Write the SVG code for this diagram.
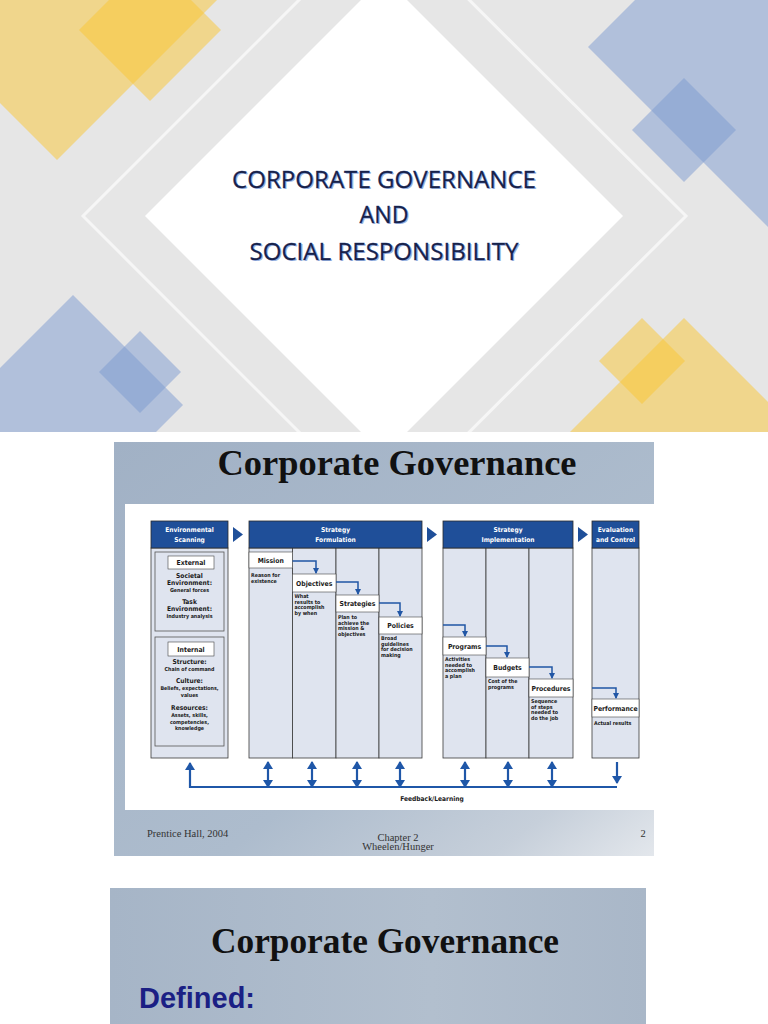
<svg xmlns="http://www.w3.org/2000/svg" width="768" height="1024" viewBox="0 0 768 1024">
<defs>
<clipPath id="topclip"><rect x="0" y="0" width="768" height="432"/></clipPath>
<linearGradient id="s2bg" x1="0" y1="0" x2="1" y2="1">
<stop offset="0" stop-color="#a1b1c5"/>
<stop offset="0.6" stop-color="#adbccd"/>
<stop offset="0.85" stop-color="#c6cfda"/>
<stop offset="1" stop-color="#e3e7ec"/>
</linearGradient>
<linearGradient id="s3bg" x1="0" y1="0" x2="1" y2="0">
<stop offset="0" stop-color="#a6b5c7"/>
<stop offset="0.6" stop-color="#b2bfce"/>
<stop offset="1" stop-color="#a9b7c8"/>
</linearGradient>
<marker id="ah" viewBox="0 0 6 6" refX="5" refY="3" markerWidth="6" markerHeight="6" orient="auto" markerUnits="userSpaceOnUse">
<path d="M0,0 L6,3 L0,6 z" fill="#2156a5"/>
</marker>
<marker id="fb" viewBox="0 0 8 10" refX="7" refY="5" markerWidth="8" markerHeight="10" orient="auto-start-reverse" markerUnits="userSpaceOnUse">
<path d="M0,0 L8,5 L0,10 z" fill="#1f57a8"/>
</marker>
<style>
.yel{fill:#fac632;opacity:0.5}
.blu{fill:#7b9ad0;opacity:0.5}
.ttl{font-family:"Open Sans","Liberation Sans",sans-serif;font-size:24px;text-anchor:middle;fill:#17224a;stroke:#2b4c98;stroke-width:0.3px;paint-order:stroke}
.tsh{font-family:"Open Sans","Liberation Sans",sans-serif;font-size:24px;text-anchor:middle;fill:#7d9bd6;opacity:0.75}
.hdr{fill:#1f4f99;stroke:#2b2b2b;stroke-width:0.8}
.col{fill:#dfe4ef;stroke:#3a3a3a;stroke-width:0.8}
.inb{fill:#dfe4ef;stroke:#555;stroke-width:0.8}
.box{fill:#ffffff;stroke:#444;stroke-width:0.6}
.tri{fill:#1f4f99}
.cf{font-family:"DejaVu Sans Condensed","DejaVu Sans","Liberation Sans",sans-serif;font-stretch:condensed;font-weight:bold}
.ht{font-size:6.6px;fill:#ffffff;text-anchor:middle}
.bl{font-size:6.8px;fill:#1a1a1a;text-anchor:middle}
.sm{font-size:5.3px;fill:#1a1a1a}
.smc{font-size:5.3px;fill:#1a1a1a;text-anchor:middle}
.md{font-size:6.6px;fill:#1a1a1a;text-anchor:middle}
.arr{fill:none;stroke:#2156a5;stroke-width:1.5}
.fbl{fill:none;stroke:#1f57a8;stroke-width:2.2}
.ser{font-family:"Liberation Serif","Times New Roman",serif}
</style>
</defs>

<g id="title-slide">
<rect x="0" y="0" width="768" height="432" fill="#e6e6e6"/>
<g clip-path="url(#topclip)">
<polygon points="384,-85 686,216 384,517 83,216" fill="none" stroke="#f6f6f6" stroke-width="3"/>
<polygon points="384,-23 623,216 384,455 145,216" fill="#ffffff"/>
<polygon class="yel" points="57,-160 217,0 57,160 -103,0"/>
<polygon class="yel" points="150,-41 221,30 150,101 79,30"/>
<polygon class="blu" points="588,47 788,-153 988,47 788,247"/>
<polygon class="blu" points="684,78 736,130 684,182 632,130"/>
<polygon class="blu" points="73,295 183,405 73,515 -37,405"/>
<polygon class="blu" points="140,331 181,372 140,413 99,372"/>
<polygon class="yel" points="684,318 804,438 684,558 564,438"/>
<polygon class="yel" points="642,318 685,361 642,404 599,361"/>
</g>
<text class="tsh" x="385.3" y="189.3" textLength="304" lengthAdjust="spacingAndGlyphs">CORPORATE GOVERNANCE</text>
<text class="ttl" x="384" y="188" textLength="304" lengthAdjust="spacingAndGlyphs">CORPORATE GOVERNANCE</text>
<text class="tsh" x="385.3" y="224.3" textLength="49" lengthAdjust="spacingAndGlyphs">AND</text>
<text class="ttl" x="384" y="223" textLength="49" lengthAdjust="spacingAndGlyphs">AND</text>
<text class="tsh" x="385.3" y="261.3" textLength="269" lengthAdjust="spacingAndGlyphs">SOCIAL RESPONSIBILITY</text>
<text class="ttl" x="384" y="260" textLength="269" lengthAdjust="spacingAndGlyphs">SOCIAL RESPONSIBILITY</text>
</g>

<g id="slide2">
<rect x="114" y="442" width="540" height="414" fill="url(#s2bg)"/>
<text class="ser" x="397" y="475" font-size="36" font-weight="bold" text-anchor="middle" fill="#111" textLength="359" lengthAdjust="spacingAndGlyphs">Corporate Governance</text>
<rect x="125" y="504" width="529" height="306" fill="#ffffff"/>
<text class="ser" x="147" y="837" font-size="10.5" fill="#333">Prentice Hall, 2004</text>
<text class="ser" x="398" y="841" font-size="10.5" fill="#333" text-anchor="middle">Chapter 2</text>
<text class="ser" x="398" y="850" font-size="10.5" fill="#333" text-anchor="middle">Wheelen/Hunger</text>
<text class="ser" x="643" y="837" font-size="10.5" fill="#333" text-anchor="middle">2</text>
</g>

<g id="env-scanning">
<rect class="col" x="151" y="548" width="77" height="210"/>
<rect class="hdr" x="151" y="521" width="77" height="27"/>
<text class="cf ht" x="189.5" y="532">Environmental</text>
<text class="cf ht" x="189.5" y="542">Scanning</text>
<rect class="inb" x="155" y="552" width="69" height="79"/>
<rect class="box" x="168" y="556" width="46" height="13"/>
<text class="cf bl" x="191" y="565">External</text>
<text class="cf md" x="189.5" y="578">Societal</text>
<text class="cf md" x="189.5" y="585">Environment:</text>
<text class="cf smc" x="189.5" y="591.5">General forces</text>
<text class="cf md" x="189.5" y="604">Task</text>
<text class="cf md" x="189.5" y="611">Environment:</text>
<text class="cf smc" x="189.5" y="618">Industry analysis</text>
<rect class="inb" x="155" y="637" width="69" height="109"/>
<rect class="box" x="168" y="642" width="46" height="14"/>
<text class="cf bl" x="191" y="651.5">Internal</text>
<text class="cf md" x="189.5" y="664">Structure:</text>
<text class="cf smc" x="189.5" y="670.5">Chain of command</text>
<text class="cf md" x="189.5" y="683">Culture:</text>
<text class="cf smc" x="189.5" y="690">Beliefs, expectations,</text>
<text class="cf smc" x="189.5" y="697">values</text>
<text class="cf md" x="189.5" y="710">Resources:</text>
<text class="cf smc" x="189.5" y="717">Assets, skills,</text>
<text class="cf smc" x="189.5" y="723.5">competencies,</text>
<text class="cf smc" x="189.5" y="730">knowledge</text>
</g>

<g id="strategy-formulation">
<rect class="col" x="249" y="548" width="43.5" height="210"/>
<rect class="col" x="292.5" y="548" width="43.5" height="210"/>
<rect class="col" x="336" y="548" width="43" height="210"/>
<rect class="col" x="379" y="548" width="43" height="210"/>
<rect class="hdr" x="249" y="521" width="173" height="27"/>
<text class="cf ht" x="335.5" y="532">Strategy</text>
<text class="cf ht" x="335.5" y="542">Formulation</text>
</g>

<g id="mission">
<rect class="box" x="249" y="552" width="43.5" height="16"/>
<text class="cf bl" x="270.7" y="563">Mission</text>
<text class="cf sm" x="251" y="577">Reason for</text>
<text class="cf sm" x="251" y="582.5">existence</text>
</g>
<g id="objectives">
<rect class="box" x="292.5" y="574" width="43.5" height="18"/>
<text class="cf bl" x="314.2" y="585.5">Objectives</text>
<text class="cf sm" x="294.5" y="598">What</text>
<text class="cf sm" x="294.5" y="603.5">results to</text>
<text class="cf sm" x="294.5" y="609">accomplish</text>
<text class="cf sm" x="294.5" y="614.5">by when</text>
</g>
<g id="strategies">
<rect class="box" x="336" y="595" width="43" height="17"/>
<text class="cf bl" x="357.5" y="606">Strategies</text>
<text class="cf sm" x="338" y="619">Plan to</text>
<text class="cf sm" x="338" y="624.5">achieve the</text>
<text class="cf sm" x="338" y="630">mission &amp;</text>
<text class="cf sm" x="338" y="635.5">objectives</text>
</g>
<g id="policies">
<rect class="box" x="379" y="617" width="43" height="17"/>
<text class="cf bl" x="400.5" y="628">Policies</text>
<text class="cf sm" x="381" y="640">Broad</text>
<text class="cf sm" x="381" y="645.5">guidelines</text>
<text class="cf sm" x="381" y="651">for decision</text>
<text class="cf sm" x="381" y="656.5">making</text>
</g>

<g id="strategy-implementation">
<rect class="col" x="443" y="548" width="43" height="210"/>
<rect class="col" x="486" y="548" width="43" height="210"/>
<rect class="col" x="529" y="548" width="44" height="210"/>
<rect class="hdr" x="443" y="521" width="130" height="27"/>
<text class="cf ht" x="508" y="532">Strategy</text>
<text class="cf ht" x="508" y="542">Implementation</text>
</g>
<g id="programs">
<rect class="box" x="443" y="637" width="43" height="18"/>
<text class="cf bl" x="464.5" y="648.5">Programs</text>
<text class="cf sm" x="445" y="661">Activities</text>
<text class="cf sm" x="445" y="666.5">needed to</text>
<text class="cf sm" x="445" y="672">accomplish</text>
<text class="cf sm" x="445" y="677.5">a plan</text>
</g>
<g id="budgets">
<rect class="box" x="486" y="658" width="43" height="19"/>
<text class="cf bl" x="507.5" y="670">Budgets</text>
<text class="cf sm" x="488" y="683">Cost of the</text>
<text class="cf sm" x="488" y="688.5">programs</text>
</g>
<g id="procedures">
<rect class="box" x="529" y="679" width="44" height="18"/>
<text class="cf bl" x="551" y="690.5">Procedures</text>
<text class="cf sm" x="531" y="703">Sequence</text>
<text class="cf sm" x="531" y="708.5">of steps</text>
<text class="cf sm" x="531" y="714">needed to</text>
<text class="cf sm" x="531" y="719.5">do the job</text>
</g>

<g id="evaluation-control">
<rect class="col" x="592" y="548" width="47" height="210"/>
<rect class="hdr" x="592" y="521" width="47" height="27"/>
<text class="cf ht" x="615.5" y="532">Evaluation</text>
<text class="cf ht" x="615.5" y="542">and Control</text>
</g>
<g id="performance">
<rect class="box" x="592" y="699" width="47" height="18"/>
<text class="cf bl" x="615.5" y="710.5">Performance</text>
<text class="cf sm" x="594" y="725">Actual results</text>
</g>

<g id="connectors">
<polygon class="tri" points="233,527 243,534.5 233,542"/>
<polygon class="tri" points="427,527 437,534.5 427,542"/>
<polygon class="tri" points="578,527 588,534.5 578,542"/>
<path class="arr" d="M292.5,561 H316 V573" marker-end="url(#ah)"/>
<path class="arr" d="M336,582 H358 V594" marker-end="url(#ah)"/>
<path class="arr" d="M379,603 H400 V616" marker-end="url(#ah)"/>
<path class="arr" d="M443,625 H465 V636" marker-end="url(#ah)"/>
<path class="arr" d="M486,646 H507 V657" marker-end="url(#ah)"/>
<path class="arr" d="M529,667 H552 V678" marker-end="url(#ah)"/>
<path class="arr" d="M592,688 H616 V698" marker-end="url(#ah)"/>
<path class="fbl" d="M617,787 H190 V763" marker-end="url(#fb)"/>
<line class="fbl" x1="268" y1="762" x2="268" y2="787" marker-start="url(#fb)" marker-end="url(#fb)"/>
<line class="fbl" x1="312" y1="762" x2="312" y2="787" marker-start="url(#fb)" marker-end="url(#fb)"/>
<line class="fbl" x1="357" y1="762" x2="357" y2="787" marker-start="url(#fb)" marker-end="url(#fb)"/>
<line class="fbl" x1="400" y1="762" x2="400" y2="787" marker-start="url(#fb)" marker-end="url(#fb)"/>
<line class="fbl" x1="465" y1="762" x2="465" y2="787" marker-start="url(#fb)" marker-end="url(#fb)"/>
<line class="fbl" x1="508" y1="762" x2="508" y2="787" marker-start="url(#fb)" marker-end="url(#fb)"/>
<line class="fbl" x1="552" y1="762" x2="552" y2="787" marker-start="url(#fb)" marker-end="url(#fb)"/>
<line class="fbl" x1="617" y1="762" x2="617" y2="783" marker-end="url(#fb)"/>
<text class="cf md" x="432" y="801">Feedback/Learning</text>
</g>

<g id="slide3">
<rect x="110" y="888" width="536" height="136" fill="url(#s3bg)"/>
<text class="ser" x="385" y="953" font-size="35" font-weight="bold" text-anchor="middle" fill="#111" textLength="348" lengthAdjust="spacingAndGlyphs">Corporate Governance</text>
<text x="139" y="1008" font-family="Liberation Sans, Arial, sans-serif" font-size="29" font-weight="bold" fill="#1b1f84">Defined:</text>
</g>
</svg>
